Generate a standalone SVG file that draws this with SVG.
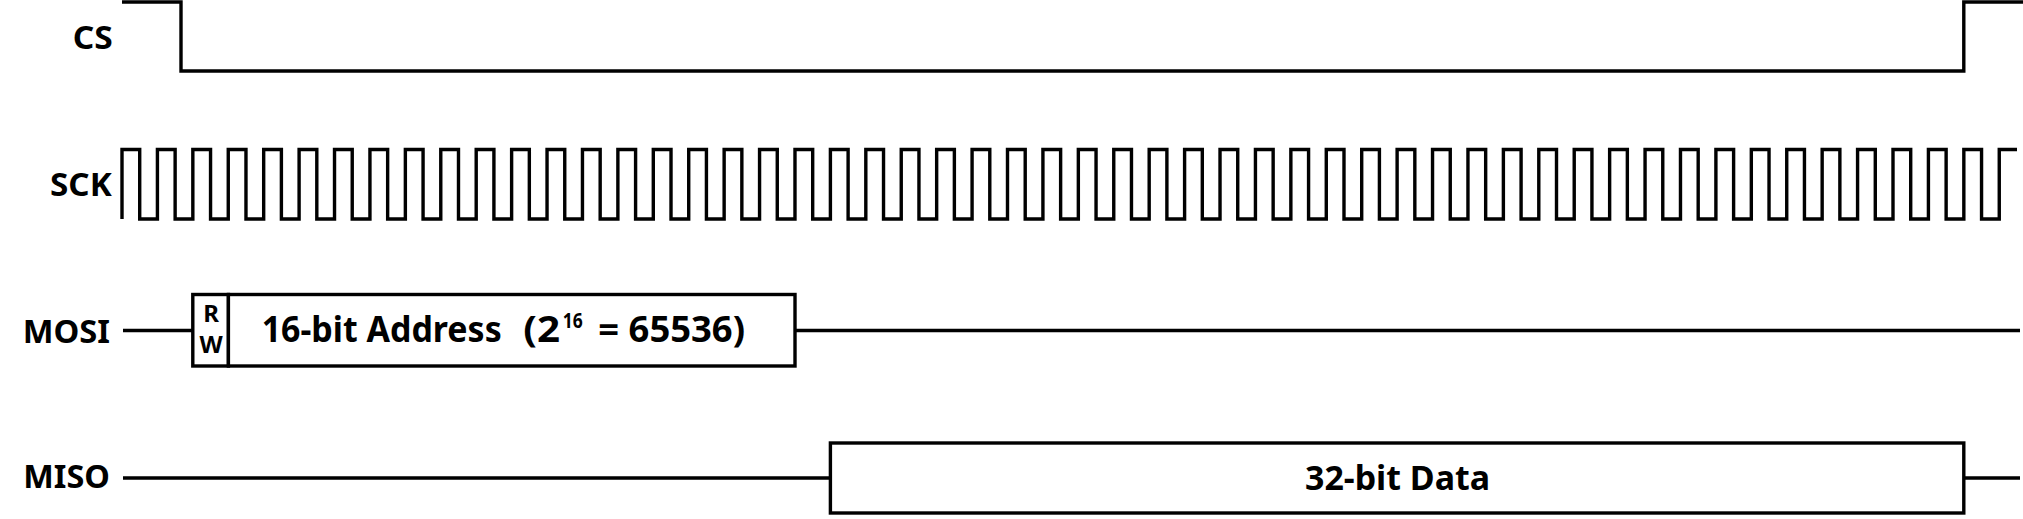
<svg xmlns="http://www.w3.org/2000/svg" width="2023" height="519" viewBox="0 0 2023 519">
<style>
.w{fill:none;stroke:#000;stroke-width:3.4;stroke-linejoin:miter;stroke-linecap:butt}
.b{fill:#fff;stroke:#000;stroke-width:3.4}
.t{font-family:"Noto Sans","Open Sans","DejaVu Sans",sans-serif;font-weight:bold;fill:#000}
</style>
<rect x="0" y="0" width="2023" height="519" fill="#fff"/>
<g id="labels">
<text class="t" x="72.7" y="49" font-size="32" textLength="40" lengthAdjust="spacingAndGlyphs">CS</text>
<text class="t" x="50" y="195.5" font-size="32" textLength="61.7" lengthAdjust="spacingAndGlyphs">SCK</text>
<text class="t" x="22.7" y="343.3" font-size="32" textLength="87.3" lengthAdjust="spacingAndGlyphs">MOSI</text>
<text class="t" x="23.3" y="488.3" font-size="32" textLength="86.7" lengthAdjust="spacingAndGlyphs">MISO</text>
</g>
<g id="connectors">
<path id="cs-wave" class="w" d="M122,2 H181 V71 H1963.8 V2 H2023"/>
<path id="sck-wave" class="w" d="M122,219 v-69.5
h17.71v69.5h17.71v-69.5h17.71v69.5h17.71v-69.5h17.71v69.5h17.71v-69.5h17.71v69.5h17.71v-69.5h17.71v69.5h17.71v-69.5h17.71v69.5h17.71v-69.5h17.71v69.5h17.71v-69.5h17.71v69.5h17.71v-69.5h17.71v69.5h17.71v-69.5h17.71v69.5h17.71v-69.5
h17.71v69.5h17.71v-69.5h17.71v69.5h17.71v-69.5h17.71v69.5h17.71v-69.5h17.71v69.5h17.71v-69.5h17.71v69.5h17.71v-69.5h17.71v69.5h17.71v-69.5h17.71v69.5h17.71v-69.5h17.71v69.5h17.71v-69.5h17.71v69.5h17.71v-69.5h17.71v69.5h17.71v-69.5
h17.71v69.5h17.71v-69.5h17.71v69.5h17.71v-69.5h17.71v69.5h17.71v-69.5h17.71v69.5h17.71v-69.5h17.71v69.5h17.71v-69.5h17.71v69.5h17.71v-69.5h17.71v69.5h17.71v-69.5h17.71v69.5h17.71v-69.5h17.71v69.5h17.71v-69.5h17.71v69.5h17.71v-69.5
h17.71v69.5h17.71v-69.5h17.71v69.5h17.71v-69.5h17.71v69.5h17.71v-69.5h17.71v69.5h17.71v-69.5h17.71v69.5h17.71v-69.5h17.71v69.5h17.71v-69.5h17.71v69.5h17.71v-69.5h17.71v69.5h17.71v-69.5h17.71v69.5h17.71v-69.5h17.71v69.5h17.71v-69.5
h17.71v69.5h17.71v-69.5h17.71v69.5h17.71v-69.5h17.71v69.5h17.71v-69.5h17.71v69.5h17.71v-69.5h17.71v69.5h17.71v-69.5h17.71v69.5h17.71v-69.5h17.71v69.5h17.71v-69.5h17.71v69.5h17.71v-69.5h17.71v69.5h17.71v-69.5h17.71v69.5h17.71v-69.5
h17.71v69.5h17.71v-69.5h17.71v69.5h17.71v-69.5h17.71v69.5h17.71v-69.5
H2017"/>
<path id="mosi-line" class="w" d="M123,330.5 H192.8 M795,330.5 H2020"/>
<path id="miso-line" class="w" d="M123,478 H830.4 M1963.8,478 H2020"/>
</g>
<g id="rw">
<rect class="b" x="192.8" y="294.5" width="35.6" height="71.5"/>
<text class="t" x="211" y="322" font-size="24" text-anchor="middle">R</text>
<text class="t" x="211" y="353" font-size="24" text-anchor="middle">W</text>
</g>
<g id="address">
<rect class="b" x="228.4" y="294.5" width="566.6" height="71.5"/>
<text class="t" font-size="35" y="341.5"><tspan x="261.7" textLength="240" lengthAdjust="spacingAndGlyphs">16-bit Address</tspan><tspan x="523.3" textLength="36.7" lengthAdjust="spacingAndGlyphs">(2</tspan><tspan x="562.7" y="328" font-size="22" textLength="20" lengthAdjust="spacingAndGlyphs">16</tspan><tspan x="598.3" y="341.5" textLength="146.7" lengthAdjust="spacingAndGlyphs">= 65536)</tspan></text>
</g>
<g id="data">
<rect class="b" x="830.4" y="443" width="1133.4" height="70"/>
<text class="t" x="1305" y="490" font-size="34" textLength="185" lengthAdjust="spacingAndGlyphs">32-bit Data</text>
</g>
</svg>
